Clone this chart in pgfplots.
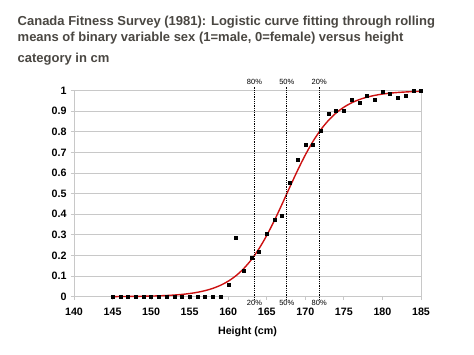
\documentclass[border=0pt]{standalone}
\usepackage{pgfplots}
\pgfplotsset{compat=1.18}
\usepackage{fontspec}
\setmainfont{Liberation Sans}
\definecolor{titlegray}{HTML}{4A4742}
\definecolor{gridgray}{HTML}{C8C8C8}
\definecolor{curvered}{HTML}{CC1111}
\begin{document}
\begin{tikzpicture}[x=1pt,y=1pt]
\path[use as bounding box] (-74,-58.3) rectangle (400,296.7);
\node[anchor=base west,font=\bfseries\fontsize{13}{15}\selectfont,text=titlegray,inner sep=0] at (-56.5,271.2) {Canada Fitness Survey (1981): Logistic curve fitting through rolling};
\node[anchor=base west,font=\bfseries\fontsize{13}{15}\selectfont,text=titlegray,inner sep=0] at (-56.5,255.2) {means of binary variable sex (1=male, 0=female) versus height};
\node[anchor=base west,font=\bfseries\fontsize{13}{15}\selectfont,text=titlegray,inner sep=0] at (-56.5,233.7) {category in cm};
\begin{axis}[
  at={(0,0)}, anchor=south west,
  scale only axis, width=347pt, height=206pt,
  xmin=140, xmax=185, ymin=0, ymax=1,
  xtick={140,145,...,185}, ytick={0,0.1,...,1},
  yticklabels={0,0.1,0.2,0.3,0.4,0.5,0.6,0.7,0.8,0.9,1},
  ymajorgrids, major grid style={gridgray, line width=0.8pt},
  axis line style={gridgray, line width=0.8pt},
  tick style={gridgray, line width=0.8pt},
  tick align=outside, major tick length=3pt,
  xtick pos=bottom, ytick pos=left,
  tick label style={font=\bfseries\fontsize{10.7}{12}\selectfont},
  /pgf/number format/assume math mode=true,
  xticklabel style={yshift=-5pt},
  yticklabel style={xshift=-1pt},
  xlabel={Height (cm)}, xlabel style={font=\bfseries\fontsize{10.7}{12}\selectfont, yshift=-4pt},
  clip=false,
]
\addplot[curvered, line width=1.4pt, smooth] coordinates {
(145,0.00058)(146,0.0008)(147,0.00111)(148,0.00155)(149,0.00216)(150,0.0030)
(151,0.00416)(152,0.00578)(153,0.00802)(154,0.0111)(155,0.0154)(156,0.0213)
(157,0.0294)(158,0.0404)(159,0.0553)(160,0.0753)(161,0.1017)(162,0.1361)
(163,0.1797)(164,0.2335)(165,0.2978)(166,0.3710)(167,0.4507)(168,0.5330)
(169,0.6135)(170,0.6882)(171,0.7544)(172,0.8103)(173,0.8559)(174,0.8921)
(175,0.9200)(176,0.9412)(177,0.9570)(178,0.9687)(179,0.9773)(180,0.9836)
(181,0.9881)(182,0.9914)(183,0.9938)(184,0.9956)(185,0.9968)};
\addplot[only marks, mark=square*, mark size=1.5pt, black] coordinates {
(145,0)(146,0)(147,0)(148,0)(149,0)(150,0)(151,0)(152,0)(153,0)(154,0)
(155,0)(156,0)(157,0)(158,0)(159,0)(160,0.057)(161,0.284)(162,0.127)
(163,0.19)(164,0.218)(165,0.306)(166,0.376)(167,0.394)(168,0.553)
(169,0.663)(170,0.738)(171,0.738)(172,0.805)(173,0.886)(174,0.902)
(175,0.902)(176,0.956)(177,0.94)(178,0.977)(179,0.956)(180,0.993)
(181,0.984)(182,0.967)(183,0.975)(184,1.0)(185,1.0)};
\addplot[black, densely dotted, line width=0.8pt] coordinates {(163.4,-0.015)(163.4,1.02)};
\addplot[black, densely dotted, line width=0.8pt] coordinates {(167.6,-0.015)(167.6,1.02)};
\addplot[black, densely dotted, line width=0.8pt] coordinates {(171.8,-0.015)(171.8,1.02)};
\node[font=\fontsize{7.5}{8}\selectfont] at (axis cs:163.4,1.045) {80\%};
\node[font=\fontsize{7.5}{8}\selectfont] at (axis cs:167.6,1.045) {50\%};
\node[font=\fontsize{7.5}{8}\selectfont] at (axis cs:171.8,1.045) {20\%};
\node[font=\fontsize{7.5}{8}\selectfont] at (axis cs:163.4,-0.032) {20\%};
\node[font=\fontsize{7.5}{8}\selectfont] at (axis cs:167.6,-0.032) {50\%};
\node[font=\fontsize{7.5}{8}\selectfont] at (axis cs:171.8,-0.032) {80\%};
\end{axis}
\end{tikzpicture}
\end{document}
